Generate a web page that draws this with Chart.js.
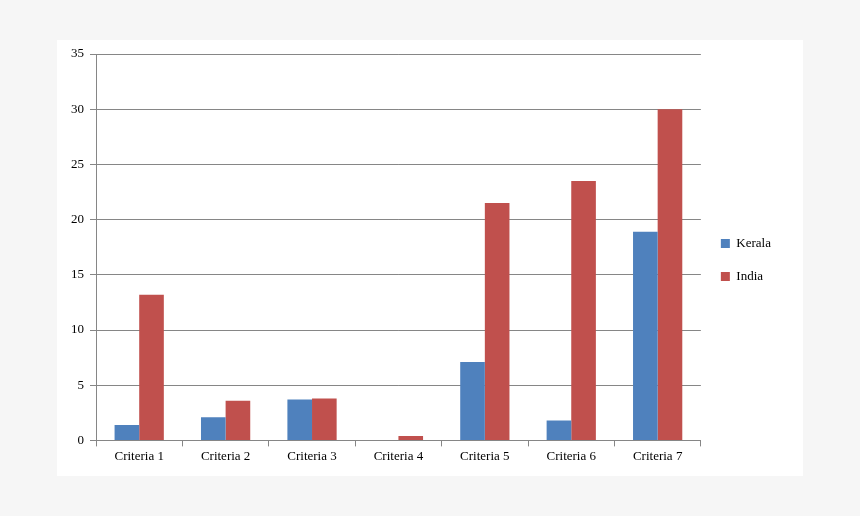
<!DOCTYPE html>
<html><head><meta charset="utf-8">
<script src="https://cdn.jsdelivr.net/npm/chart.js@4"></script>
<style>
html,body{margin:0;padding:0;background:#f6f6f6;width:860px;height:516px;overflow:hidden}
#box{position:absolute;left:57px;top:40px;width:746px;height:436px;background:#fff}
</style></head><body>
<div id="box"><canvas id="c" width="746" height="436"></canvas></div>
<script>
const categories=["Criteria 1","Criteria 2","Criteria 3","Criteria 4","Criteria 5","Criteria 6","Criteria 7"];
const kerala=[1.4,2.1,3.7,0,7.1,1.8,18.9];
const india=[13.2,3.6,3.8,0.4,21.5,23.5,30];
const font={family:"Liberation Serif, DejaVu Serif, serif",size:13};
new Chart(document.getElementById('c'),{
type:'bar',
data:{labels:categories,datasets:[
{label:'Kerala',data:kerala,backgroundColor:'#4F81BD'},
{label:'India',data:india,backgroundColor:'#C0504D'}]},
options:{responsive:false,animation:false,
layout:{padding:{top:14,left:8,right:22,bottom:10}},
datasets:{bar:{categoryPercentage:0.57,barPercentage:1}},
plugins:{legend:{position:'right',labels:{font:font,color:'#000',boxWidth:9,boxHeight:9,padding:20}},tooltip:{enabled:false}},
scales:{
x:{grid:{display:true,drawOnChartArea:false,offset:true,tickLength:6,color:'#868686'},border:{color:'#868686'},ticks:{font:font,color:'#000',padding:2}},
y:{min:0,max:35,ticks:{stepSize:5,font:font,color:'#000',padding:6},grid:{color:'#868686',tickLength:6},border:{color:'#868686'}}
}}});
</script></body></html>
